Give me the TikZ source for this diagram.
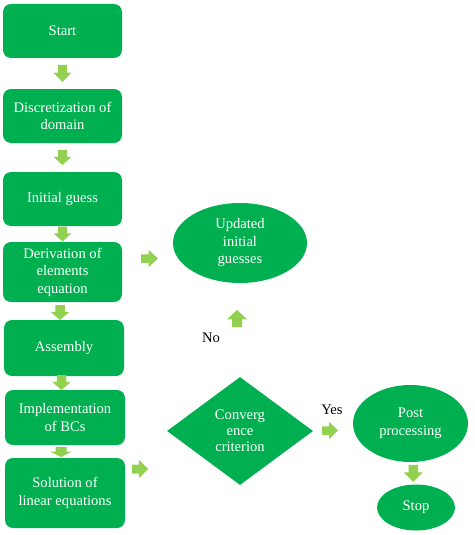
\documentclass[tikz,border=0pt]{standalone}
\usepackage{fontspec}
\setmainfont{Liberation Serif}
\usetikzlibrary{shapes.geometric,calc}
\definecolor{boxgreen}{HTML}{00B050}
\definecolor{arrowgreen}{HTML}{92D050}
\tikzset{
  basefont/.style={font=\fontsize{14.6}{17.5}\selectfont},
  stepbox/.style={basefont, fill=boxgreen, rounded corners=8pt, text=white, align=center, inner sep=0pt, minimum width=119pt},
  ovalbox/.style={basefont, ellipse, fill=boxgreen, text=white, align=center, inner sep=0pt},
  decisionbox/.style={basefont, diamond, aspect=1.35, fill=boxgreen, text=white, align=center, inner sep=0pt, font=\fontsize{14.6}{16}\selectfont},
  plainlabel/.style={basefont, text=black, inner sep=0pt},
  arrowfill/.style={fill=arrowgreen}
}
% #1 centre, #2 rotation, #3 length, #4 width
\newcommand\blockarrow[4]{%
  \begin{scope}[shift={#1},rotate=#2]
    \fill[arrowfill] (-#3/2,-#4/4) -- (-#3*0.05,-#4/4) -- (-#3*0.05,-#4/2) -- (#3/2,0)
      -- (-#3*0.05,#4/2) -- (-#3*0.05,#4/4) -- (-#3/2,#4/4) -- cycle;
  \end{scope}}
\begin{document}
\begin{tikzpicture}[x=1pt,y=-1pt]
\useasboundingbox (0,0) rectangle (474,535);
% left column
\node[stepbox, minimum height=54pt] (start) at (62.5,31) {Start};
\node[stepbox, minimum height=54pt] (disc) at (62.5,116) {Discretization of\\domain};
\node[stepbox, minimum height=54pt] (init) at (62.5,199) {Initial guess};
\node[stepbox, minimum height=60pt] (deriv) at (62.5,272) {Derivation of\\elements\\equation};
\node[stepbox, minimum height=56pt, minimum width=120pt] (assem) at (64,348) {Assembly};
\node[stepbox, minimum height=55pt, minimum width=120pt] (impl) at (65,417.5) {Implementation\\of BCs};
\node[stepbox, minimum height=70pt, minimum width=120pt] (sol) at (65,493) {Solution of\\linear equations};
% right part
\node[ovalbox, minimum width=134pt, minimum height=80pt] (upd) at (240,243) {Updated\\initial\\guesses};
\node[decisionbox, minimum width=146pt, minimum height=108pt] (conv) at (240,431) {Converg\\ence\\criterion};
\node[ovalbox, minimum width=115pt, minimum height=77pt] (post) at (410.5,423.5) {Post\\processing};
\node[ovalbox, minimum width=78pt, minimum height=46pt] (stop) at (416,507.5) {Stop};
\node[plainlabel] (no) at (211,337.5) {No};
\node[plainlabel] (yes) at (332,410) {Yes};
% block arrows
\blockarrow{($(start.south)!0.5!(disc.north)$)}{-90}{17}{18}
\blockarrow{($(disc.south)!0.5!(init.north)$)}{-90}{15}{18}
\blockarrow{($(init.south)!0.5!(deriv.north)$)}{-90}{15}{18}
\blockarrow{(60,312.5)}{-90}{15}{19}
\blockarrow{(61.5,382.5)}{-90}{15}{19}
\blockarrow{(61,452)}{-90}{10}{22}
\blockarrow{(149.5,258.5)}{0}{17}{17}
\blockarrow{(140,469)}{0}{16}{18}
\blockarrow{(237,318.5)}{90}{17}{20}
\blockarrow{(330,430.5)}{0}{16}{17}
\blockarrow{($(post.south)!0.5!(stop.north)$)}{-90}{17}{19}
\end{tikzpicture}
\end{document}
